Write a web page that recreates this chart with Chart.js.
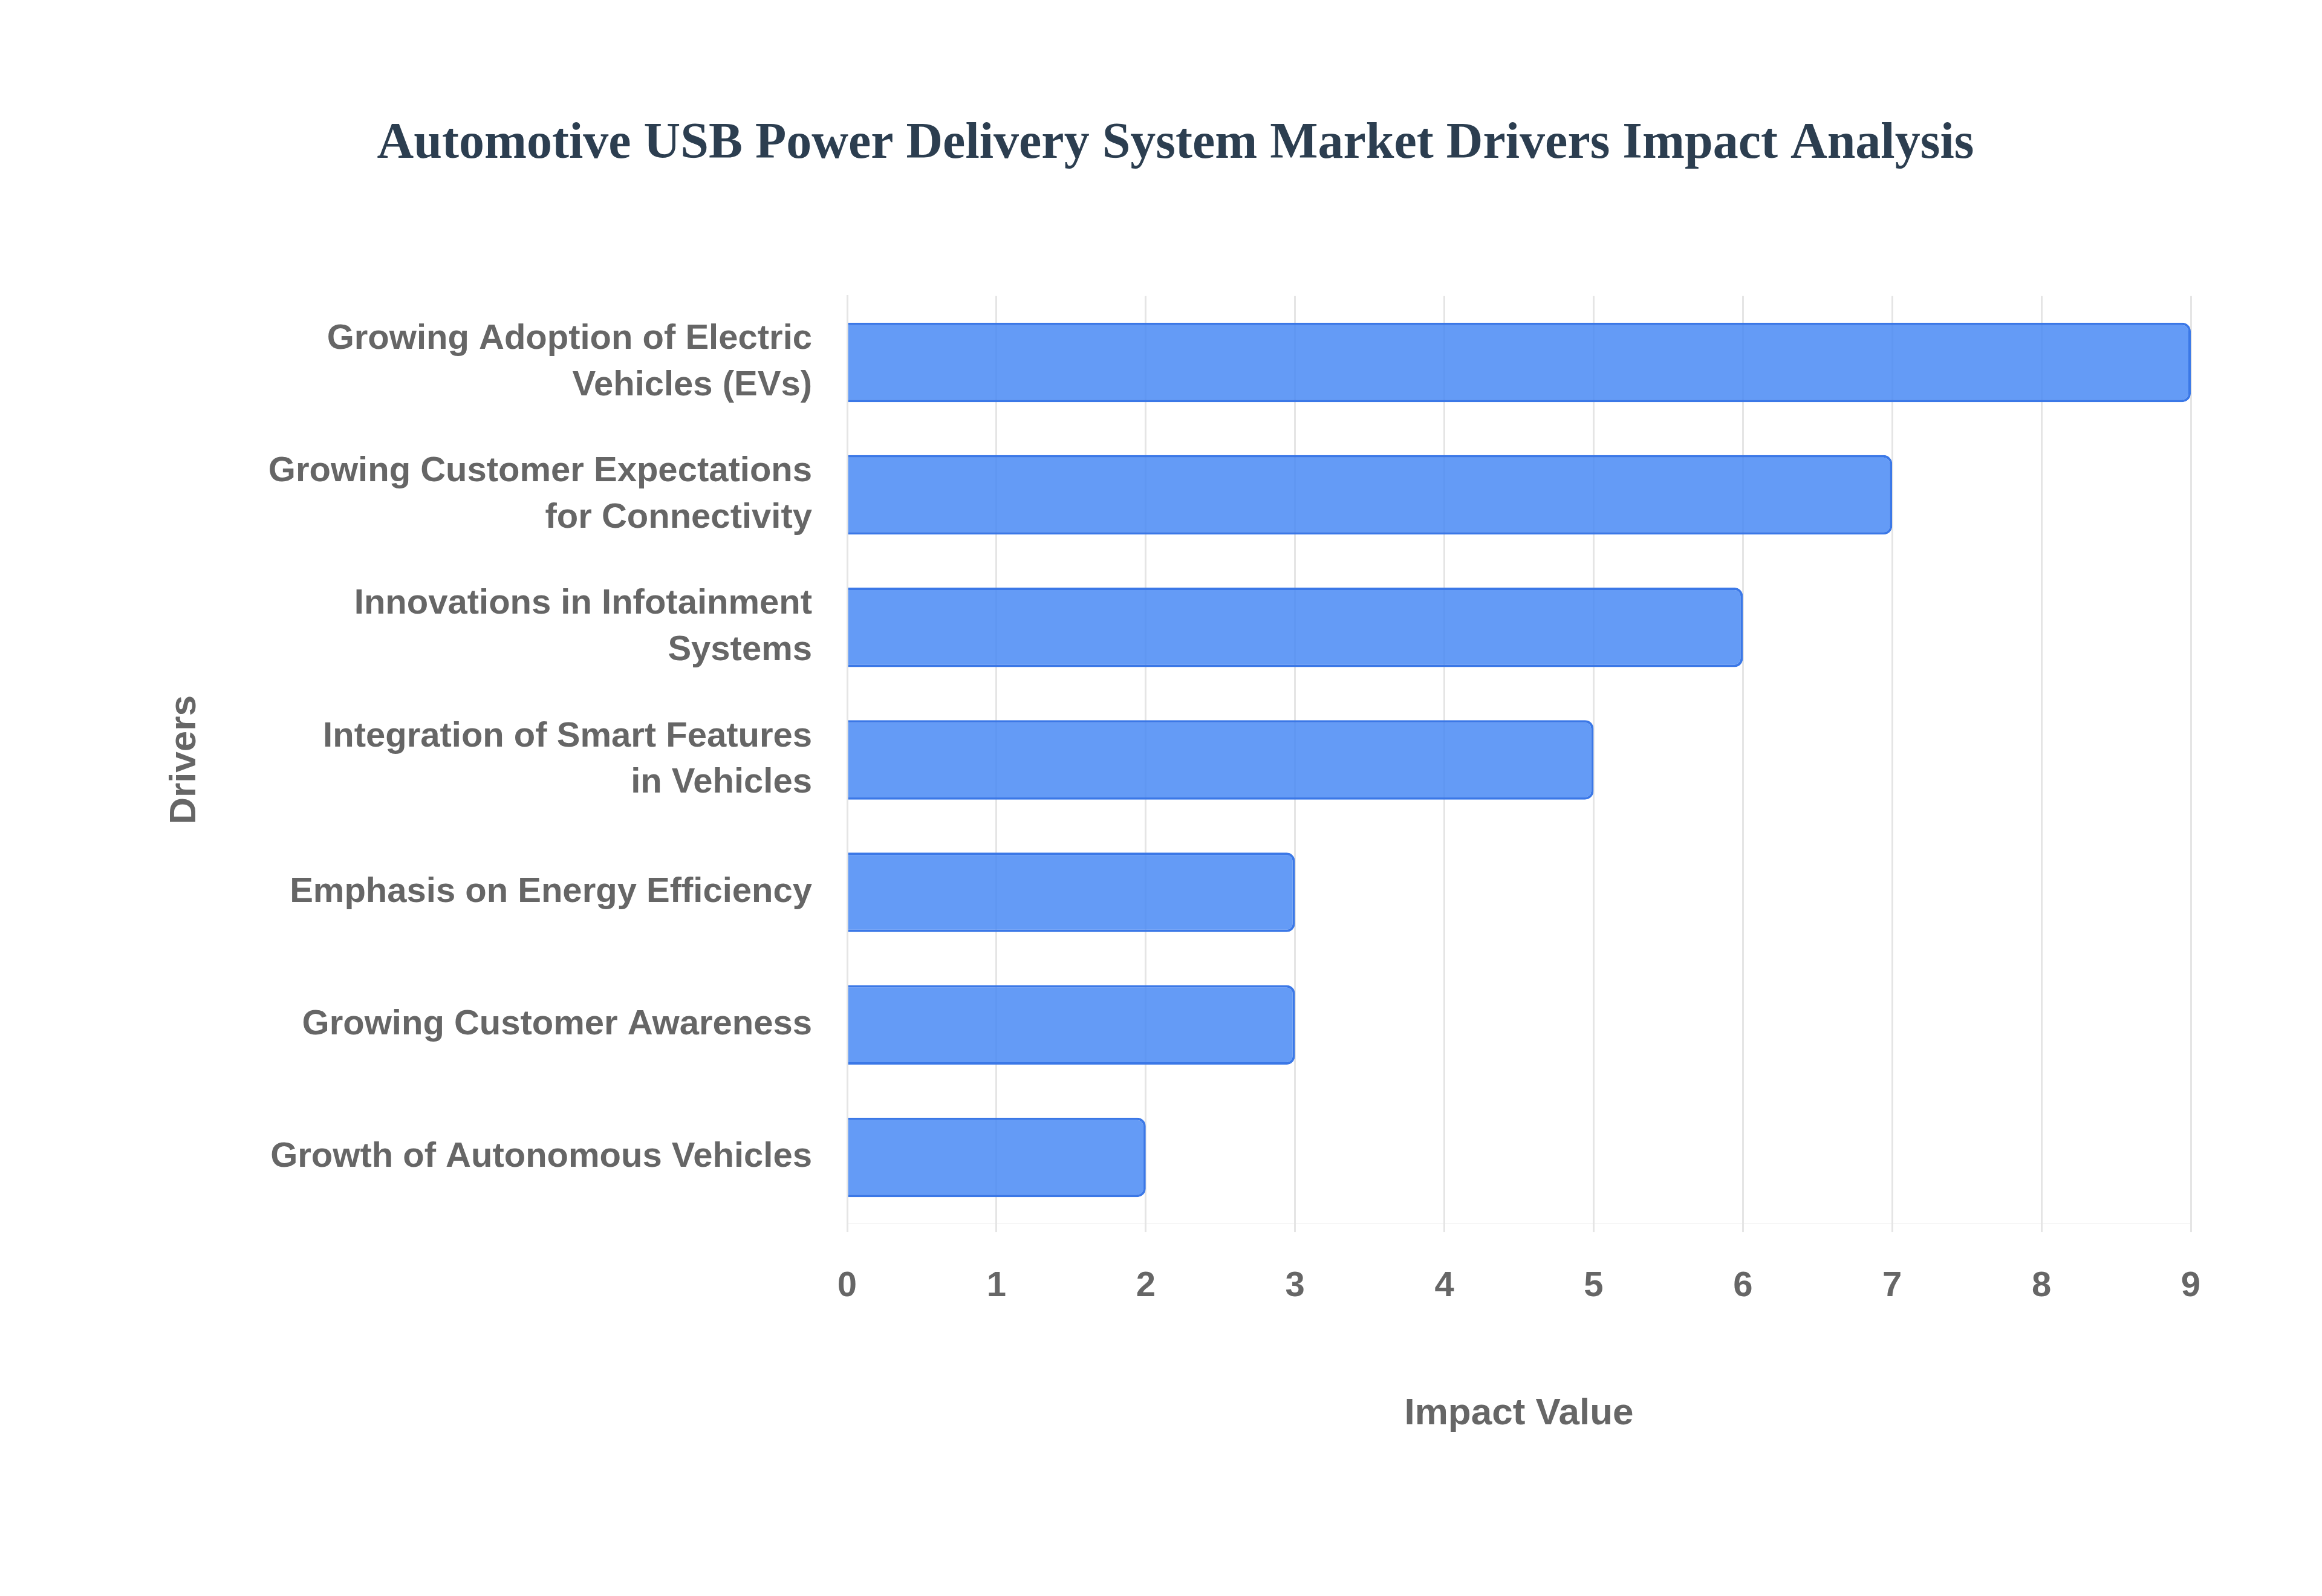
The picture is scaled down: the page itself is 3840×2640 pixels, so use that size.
<!DOCTYPE html>
<html>
<head>
<meta charset="utf-8">
<script src="https://cdn.jsdelivr.net/npm/chart.js@4"></script>
<style>
  html, body { margin: 0; padding: 0; background: #fff; }
  #wrap { width: 3840px; height: 2640px; }
</style>
</head>
<body>
<div id="wrap"><canvas id="chart" width="3840" height="2640"></canvas></div>
<script>
// drivers, top to bottom
const drivers = [
    ["Growing Adoption of Electric", "Vehicles (EVs)"],
    ["Growing Customer Expectations", "for Connectivity"],
    ["Innovations in Infotainment", "Systems"],
    ["Integration of Smart Features", "in Vehicles"],
    "Emphasis on Energy Efficiency",
    "Growing Customer Awareness",
    "Growth of Autonomous Vehicles"
];
const impactValues = [9, 7, 6, 5, 3, 3, 2];

const tickFont = { family: "Liberation Sans, Arial, sans-serif", size: 58, weight: "bold", lineHeight: 1.32 };

new Chart(document.getElementById("chart"), {
    type: "bar",
    data: {
        labels: drivers,
        datasets: [{
            label: "Impact Value",
            data: impactValues,
            backgroundColor: "rgba(66, 133, 244, 0.82)",
            borderColor: "#3b78e7",
            borderWidth: 4,
            borderRadius: 14,
            borderSkipped: "left",
            categoryPercentage: 0.6,
            barPercentage: 1
        }]
    },
    options: {
        indexAxis: "y",
        responsive: false,
        animation: false,
        devicePixelRatio: 1,
        layout: { padding: { left: 265, right: 217, top: 189, bottom: 260 } },
        plugins: {
            legend: { display: false },
            tooltip: { enabled: false },
            title: {
                display: true,
                text: "Automotive USB Power Delivery System Market Drivers Impact Analysis",
                color: "#2c3e50",
                font: { family: "Liberation Serif, Times New Roman, serif", size: 84, weight: "bold" },
                padding: { top: 0, bottom: 200 }
            }
        },
        scales: {
            x: {
                min: 0,
                max: 9,
                ticks: { stepSize: 1, color: "#666", font: tickFont, padding: 52 },
                grid: { color: "#e5e5e5", lineWidth: 3, drawTicks: true, tickLength: 14 },
                border: { color: "#e5e5e5" },
                title: {
                    display: true,
                    text: "Impact Value",
                    color: "#666",
                    font: { family: "Liberation Sans, Arial, sans-serif", size: 62, weight: "bold" },
                    padding: { top: 83 }
                }
            },
            y: {
                ticks: { color: "#666", font: tickFont, padding: 50 },
                grid: { display: false },
                border: { color: "#e5e5e5", width: 3 },
                afterFit: (scale) => { scale.width = 1136; },
                title: {
                    display: true,
                    text: "Drivers",
                    color: "#666",
                    font: { family: "Liberation Sans, Arial, sans-serif", size: 62, weight: "bold" },
                    padding: { bottom: 0 }
                }
            }
        }
    }
});
</script>
</body>
</html>
